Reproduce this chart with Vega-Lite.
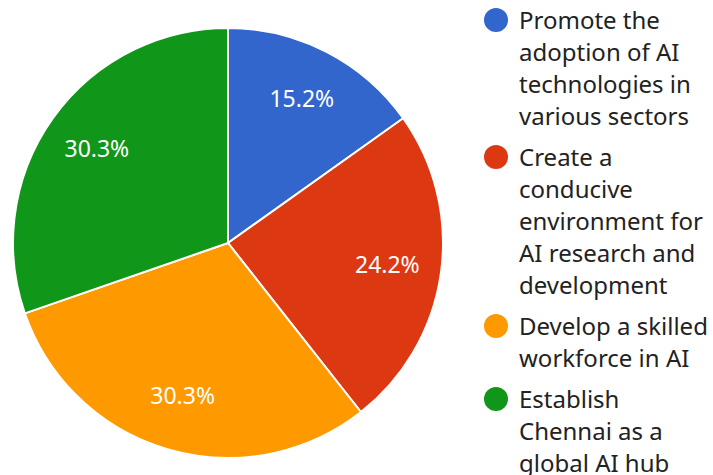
{
  "$schema": "https://vega.github.io/schema/vega-lite/v6.json",
  "autosize": {"type": "none"},
  "width": 456,
  "height": 476,
  "padding": {"left": 0, "top": 5, "right": 257, "bottom": 0},
  "background": "white",
  "data": {
    "values": [
      {"goal": "Promote the|adoption of AI|technologies in|various sectors", "count": 5, "pct": "15.2%", "ord": 1},
      {"goal": "Create a|conducive|environment for|AI research and|development", "count": 8, "pct": "24.2%", "ord": 2},
      {"goal": "Develop a skilled|workforce in AI", "count": 10, "pct": "30.3%", "ord": 3},
      {"goal": "Establish|Chennai as a|global AI hub", "count": 10, "pct": "30.3%", "ord": 4}
    ]
  },
  "encoding": {
    "theta": {"field": "count", "type": "quantitative", "stack": true},
    "order": {"field": "ord", "type": "quantitative"},
    "color": {
      "field": "goal",
      "type": "nominal",
      "scale": {
        "domain": [
          "Promote the|adoption of AI|technologies in|various sectors",
          "Create a|conducive|environment for|AI research and|development",
          "Develop a skilled|workforce in AI",
          "Establish|Chennai as a|global AI hub"
        ],
        "range": ["#3366cc", "#dc3912", "#ff9900", "#109618"]
      },
      "legend": {
        "title": null,
        "orient": "none",
        "legendX": 484,
        "legendY": 3,
        "padding": 0,
        "symbolType": "circle",
        "symbolSize": 576,
        "symbolStrokeWidth": 0,
        "labelFont": "Noto Sans",
        "labelFontSize": 24,
        "labelColor": "#222222",
        "labelLimit": 0,
        "labelOffset": 11,
        "labelBaseline": "alphabetic",
        "rowPadding": 15,
        "labelExpr": "split(datum.label, '|')"
      }
    }
  },
  "config": {
    "style": {
      "guide-label": {"lineHeight": 32, "dy": 9}
    }
  },
  "layer": [
    {
      "mark": {"type": "arc", "radius": 215, "stroke": "white", "strokeWidth": 2}
    },
    {
      "mark": {"type": "text", "radius": 161, "font": "Noto Sans", "fontSize": 23, "fill": "white"},
      "encoding": {"text": {"field": "pct", "type": "nominal"}}
    }
  ]
}
